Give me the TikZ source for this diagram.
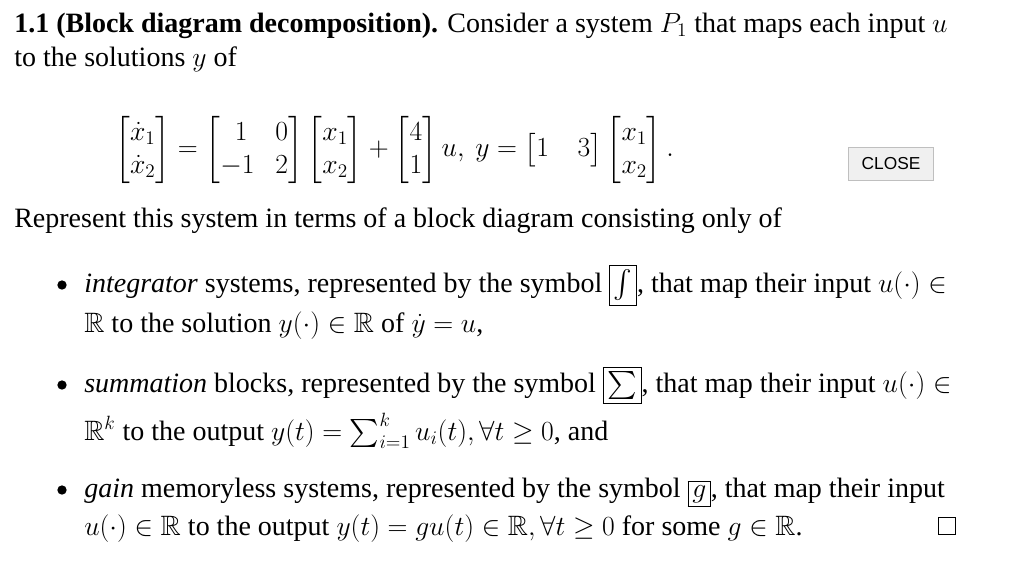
\documentclass[tikz,border=0pt]{standalone}
\usepackage{amsmath,amssymb}
\usepackage{fontspec}
\setmainfont{Liberation Serif}
\setsansfont{Liberation Sans}
\begin{document}
\begin{tikzpicture}[x=0.75pt,y=-0.75pt,
  txt/.style={anchor=base west,inner sep=0pt,font=\fontsize{21}{25}\selectfont},
  eqs/.style={anchor=west,inner sep=0pt,font=\fontsize{21}{25}\selectfont},
  bul/.style={circle,fill=black,inner sep=0pt,minimum size=7pt}]
\useasboundingbox (0,0) rectangle (1024,579);
\node[txt] (l1) at (14,32) {\textbf{1.1 (Block diagram decomposition).} Consider a system $P_1$ that maps each input $u$};
\node[txt] (l2) at (14,66) {to the solutions $y$ of};
\node[eqs] (eq1) at (115,150) {$\begin{bmatrix}\dot x_1\\ \dot x_2\end{bmatrix}=\begin{bmatrix}\;1&\;0\\-1&\;2\end{bmatrix}\begin{bmatrix}x_1\\ x_2\end{bmatrix}+\begin{bmatrix}4\\1\end{bmatrix}u,$};
\node[eqs] (eq2) at (475,150) {$y=\begin{bmatrix}1&\;\;3\end{bmatrix}\begin{bmatrix}x_1\\ x_2\end{bmatrix}.$};
\node[draw=black!25,fill=black!6,minimum width=64pt,minimum height=25pt,inner sep=0pt,font=\sffamily\fontsize{13}{15}\selectfont] (close) at (891,164) {CLOSE};
\node[txt] (l3) at (14,227) {Represent this system in terms of a block diagram consisting only of};
\node[bul] (b1) at (62,285) {};
\node[txt] (t1a) at (84,292) {\textit{integrator} systems, represented by the symbol \fbox{$\int$}, that map their input $u(\cdot)\in$};
\node[txt] (t1b) at (84,332) {$\mathbb{R}$ to the solution $y(\cdot)\in\mathbb{R}$ of $\dot y=u$,};
\node[bul] (b2) at (62,385) {};
\node[txt] (t2a) at (84,392) {\textit{summation} blocks, represented by the symbol \fbox{$\sum$}, that map their input $u(\cdot)\in$};
\node[txt] (t2b) at (84,440) {$\mathbb{R}^k$ to the output $y(t)=\sum_{i=1}^k u_i(t),\forall t\geq 0$, and};
\node[bul] (b3) at (62,490) {};
\node[txt] (t3a) at (84,497) {\textit{gain} memoryless systems, represented by the symbol \fbox{$g$}, that map their input};
\node[txt] (t3b) at (84,535) {$u(\cdot)\in\mathbb{R}$ to the output $y(t)=gu(t)\in\mathbb{R},\forall t\geq 0$ for some $g\in\mathbb{R}$.};
\node[draw,line width=0.8pt,minimum size=13pt,inner sep=0pt] (qed) at (947,526) {};
\end{tikzpicture}
\end{document}
